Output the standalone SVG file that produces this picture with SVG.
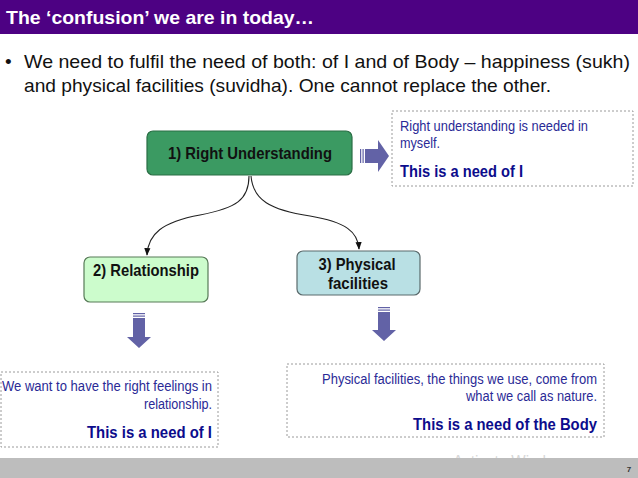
<svg xmlns="http://www.w3.org/2000/svg" width="638" height="478" viewBox="0 0 638 478">
<style>
.t{font-family:"Liberation Sans",Arial,sans-serif}
.b{font-weight:bold}
.desc{font-family:"Liberation Sans",Arial,sans-serif;font-size:14px;fill:#2a2a96}
.need{font-family:"Liberation Sans",Arial,sans-serif;font-size:17px;font-weight:bold;fill:#0c0c8c}
.dash{fill:#fff;stroke:#9a9a9a;stroke-width:1;stroke-dasharray:2,2}
.node{font-family:"Liberation Sans",Arial,sans-serif;font-size:16.5px;font-weight:bold;fill:#111;text-anchor:middle}
.conn{fill:none;stroke:#222;stroke-width:1.1}
.blk{fill:#6262a6}
</style>
<defs>
<marker id="ah" viewBox="0 0 10 10" refX="9" refY="5" markerWidth="7" markerHeight="7" orient="auto">
<path d="M0,1 L10,5 L0,9 Z" fill="#111"/>
</marker>
</defs>
<rect width="638" height="478" fill="#fff"/>
<g id="title">
<rect x="0" y="0" width="638" height="34" fill="#4d0183"/>
<text x="6" y="24" class="t b" font-size="19" fill="#fff" textLength="308" lengthAdjust="spacingAndGlyphs">The ‘confusion’ we are in today…</text>
</g>
<g id="bullet">
<text x="5" y="68" class="t" font-size="19" fill="#111">•</text>
<text x="24" y="68" class="t" font-size="18.5" fill="#111" textLength="606" lengthAdjust="spacingAndGlyphs">We need to fulfil the need of both: of I and of Body – happiness (sukh)</text>
<text x="24" y="92" class="t" font-size="18.5" fill="#111" textLength="527" lengthAdjust="spacingAndGlyphs">and physical facilities (suvidha). One cannot replace the other.</text>
</g>
<g id="connectors">
<path class="conn" d="M249,176 C249,200 236,208 200,215 C162,222 148,234 147,255" marker-end="url(#ah)"/>
<path class="conn" d="M251,176 C253,200 270,210 310,216 C346,222 358,232 359,249" marker-end="url(#ah)"/>
<g id="arrow-right">
<rect x="360" y="149" width="1.2" height="14" class="blk"/>
<rect x="362.5" y="149" width="1.2" height="14" class="blk"/>
<path class="blk" d="M365,149 H378 V140 L389,156 L378,172 V163 H365 Z"/>
</g>
<g id="arrow-down-left">
<rect x="133" y="313" width="12" height="1.2" class="blk"/>
<rect x="133" y="315.5" width="12" height="1.2" class="blk"/>
<path class="blk" d="M133,318 H145 V337 H151 L139,348 L127,337 H133 Z"/>
</g>
<g id="arrow-down-right">
<rect x="378" y="307" width="12" height="1.2" class="blk"/>
<rect x="378" y="309.5" width="12" height="1.2" class="blk"/>
<path class="blk" d="M378,312 H390 V330 H396 L384,341 L372,330 H378 Z"/>
</g>
</g>
<g id="node-right-understanding">
<rect x="147" y="131" width="205" height="44" rx="6" fill="#3b9a62" stroke="#2a6e45" stroke-width="1.2"/>
<text x="250" y="159" class="node" textLength="164" lengthAdjust="spacingAndGlyphs">1) Right Understanding</text>
</g>
<g id="node-relationship">
<rect x="84" y="257" width="124" height="45" rx="6" fill="#ccfccc" stroke="#577a57" stroke-width="1.2"/>
<text x="146" y="276" class="node" textLength="106" lengthAdjust="spacingAndGlyphs">2) Relationship</text>
</g>
<g id="node-physical">
<rect x="297" y="251" width="123" height="44" rx="6" fill="#b9e0e4" stroke="#5a6a6c" stroke-width="1.2"/>
<text x="357" y="270" class="node" textLength="77" lengthAdjust="spacingAndGlyphs">3) Physical</text>
<text x="358" y="289" class="node" textLength="60" lengthAdjust="spacingAndGlyphs">facilities</text>
</g>
<g id="note-I">
<rect x="392" y="111" width="241" height="75" class="dash"/>
<text x="400" y="131" class="desc" textLength="188" lengthAdjust="spacingAndGlyphs">Right understanding is needed in</text>
<text x="400" y="148" class="desc" textLength="40" lengthAdjust="spacingAndGlyphs">myself.</text>
<text x="400" y="177" class="need" textLength="123" lengthAdjust="spacingAndGlyphs">This is a need of I</text>
</g>
<g id="note-relationship">
<rect x="1" y="372" width="217" height="75" class="dash"/>
<text x="212" y="391" class="desc" text-anchor="end" textLength="210" lengthAdjust="spacingAndGlyphs">We want to have the right feelings in</text>
<text x="212" y="409" class="desc" text-anchor="end" textLength="68" lengthAdjust="spacingAndGlyphs">relationship.</text>
<text x="212" y="438" class="need" text-anchor="end" textLength="125" lengthAdjust="spacingAndGlyphs">This is a need of I</text>
</g>
<g id="note-body">
<rect x="287" y="364" width="317" height="73" class="dash"/>
<text x="597" y="384" class="desc" text-anchor="end" textLength="275" lengthAdjust="spacingAndGlyphs">Physical facilities, the things we use, come from</text>
<text x="597" y="401" class="desc" text-anchor="end" textLength="131" lengthAdjust="spacingAndGlyphs">what we call as nature.</text>
<text x="597" y="430" class="need" text-anchor="end" textLength="184" lengthAdjust="spacingAndGlyphs">This is a need of the Body</text>
</g>
<text x="453" y="467" class="t" font-size="17" fill="#d8d8d8" textLength="120" lengthAdjust="spacingAndGlyphs">Activate Windows</text>
<g id="footer">
<rect x="0" y="458" width="638" height="20" fill="#bdbdbd"/>
<text x="629" y="472" class="t b" font-size="8" fill="#333" text-anchor="middle">7</text>
</g>
</svg>
